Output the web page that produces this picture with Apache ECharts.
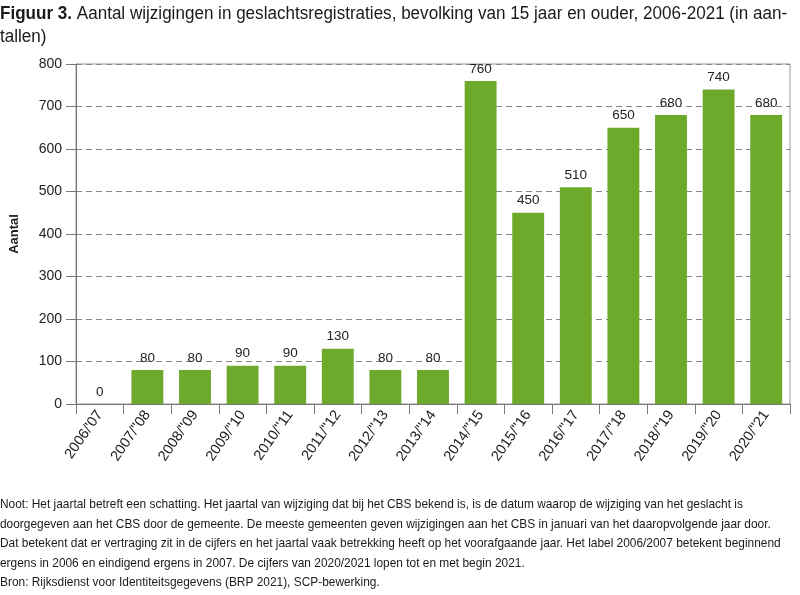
<!DOCTYPE html>
<html>
<head>
<meta charset="utf-8">
<script src="https://cdn.jsdelivr.net/npm/echarts@6/dist/echarts.min.js"></script>
<style>html,body{margin:0;padding:0;background:#fff}#c{width:800px;height:595px}</style>
</head>
<body>
<div id="c"></div>
<script>
const categories = ["2006/'07","2007/''08","2008/''09","2009/''10","2010/''11","2011/''12","2012/''13","2013/''14","2014/''15","2015/''16","2016/''17","2017/''18","2018/''19","2019/''20","2020/''21"];
const values = [0,80,80,90,90,130,80,80,760,450,510,650,680,740,680];
const yTicks = [0,100,200,300,400,500,600,700,800];
const titleBold = "Figuur 3.";
const titleLine1 = " Aantal wijzigingen in geslachtsregistraties, bevolking van 15 jaar en ouder, 2006-2021 (in aan-";
const titleLine2 = "tallen)";
const noteLines = [
 "Noot: Het jaartal betreft een schatting. Het jaartal van wijziging dat bij het CBS bekend is, is de datum waarop de wijziging van het geslacht is",
 "doorgegeven aan het CBS door de gemeente. De meeste gemeenten geven wijzigingen aan het CBS in januari van het daaropvolgende jaar door.",
 "Dat betekent dat er vertraging zit in de cijfers en het jaartal vaak betrekking heeft op het voorafgaande jaar. Het label 2006/2007 betekent beginnend",
 "ergens in 2006 en eindigend ergens in 2007. De cijfers van 2020/2021 lopen tot en met begin 2021.",
 "Bron: Rijksdienst voor Identiteitsgegevens (BRP 2021), SCP-bewerking."
];
const sans = "'Liberation Sans', Arial, sans-serif";
const chart = echarts.init(document.getElementById('c'));
const graphics = [
  {type: 'text', x: 0, y: 3, scaleX: 0.975, originX: 0, originY: 0,
   style: {text: '{b|' + titleBold + '}{n|' + titleLine1 + '}\n{n|' + titleLine2 + '}',
     rich: {
       b: {fontFamily: sans, fontWeight: 'bold', fontSize: 17.5, fill: '#1a1a1a', lineHeight: 23},
       n: {fontFamily: sans, fontWeight: 'normal', fontSize: 17.5, fill: '#1a1a1a', lineHeight: 23}
     }}}
];
noteLines.forEach((t, i) => graphics.push({
  type: 'text', x: 0, y: 498 + i * 19.6, scaleX: 0.93, originX: 0, originY: 0,
  style: {text: t, font: '12.8px ' + sans, fill: '#1a1a1a'}
}));
chart.setOption({
  animation: false,
  grid: {left: 72, right: 10, top: 64, bottom: 191, show: true, borderColor: '#999', borderWidth: 1},
  xAxis: {
    type: 'category', data: categories,
    axisLine: {lineStyle: {color: '#777'}},
    axisTick: {show: true, length: 10, alignWithLabel: false, lineStyle: {color: '#777'}},
    axisLabel: {rotate: 55, color: '#222', fontSize: 14.5, fontFamily: sans, margin: 8, interval: 0}
  },
  yAxis: {
    type: 'value', min: 0, max: 800, interval: 100,
    name: 'Aantal', nameLocation: 'middle', nameGap: 55, nameRotate: 90,
    nameTextStyle: {fontWeight: 'bold', fontSize: 13, color: '#222', fontFamily: sans},
    axisLine: {show: true, lineStyle: {color: '#777'}},
    axisTick: {show: true, length: 10, inside: false, lineStyle: {color: '#777'}},
    axisLabel: {color: '#222', fontSize: 14, fontFamily: sans, margin: 14,
      formatter: v => yTicks.includes(v) ? String(v) : ''},
    splitLine: {lineStyle: {type: [6, 4], color: '#888'}}
  },
  series: [{
    type: 'bar', data: values, barCategoryGap: '33%',
    itemStyle: {color: '#6DAA2C'},
    label: {show: true, position: 'top', distance: 5, color: '#222', fontSize: 13.5, fontFamily: sans}
  }],
  graphic: graphics
});
</script>
</body>
</html>
